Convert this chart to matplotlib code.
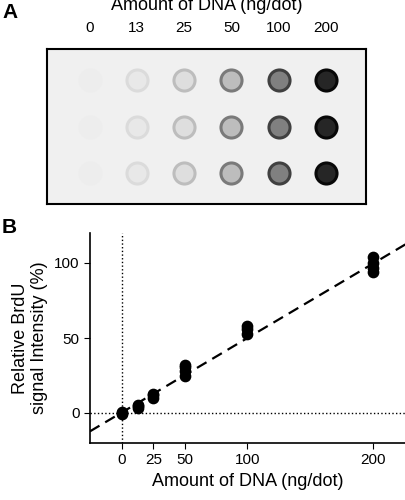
import matplotlib
matplotlib.use("Agg")
import matplotlib.pyplot as plt
import numpy as np

plt.rcParams['font.family'] = ['Liberation Sans', 'DejaVu Sans']

# Panel A data
dot_labels = ['0', '13', '25', '50', '100', '200']
edge_gray = [0.93, 0.86, 0.74, 0.48, 0.25, 0.03]
face_gray = [0.93, 0.91, 0.87, 0.74, 0.5, 0.15]
n_rows = 3

# Panel B data
x_vals = [0, 0, 0, 13, 13, 13, 25, 25, 25, 50, 50, 50, 50, 100, 100, 100, 200, 200, 200, 200]
y_vals = [0, -0.5, 0.5, 3.5, 4.5, 5.5, 10, 12, 13, 25, 28, 31, 32, 53, 56, 58, 94, 97, 100, 104]
fit_slope = 0.496
fit_intercept = 0.4
x_ticks = [0, 25, 50, 100, 200]
y_ticks = [0, 50, 100]

fig = plt.figure(figsize=(4.05, 5), dpi=100)

axA = fig.add_axes([0.116, 0.592, 0.788, 0.31])
axA.set_facecolor((0.94, 0.94, 0.94))
for i in range(len(dot_labels)):
    for r in range(n_rows):
        axA.scatter(i, r, s=230, c=[[face_gray[i]]*3], edgecolors=[[edge_gray[i]]*3], linewidths=2.2)
axA.set_xlim(-0.9, 5.85)
axA.set_ylim(2.65, -0.65)
axA.set_xticks(range(len(dot_labels)))
axA.set_xticklabels(dot_labels, fontsize=11)
axA.xaxis.tick_top()
axA.tick_params(axis='x', length=0, pad=10)
axA.set_yticks([])
axA.set_xlabel('Amount of DNA (ng/dot)', fontsize=13, labelpad=8)
axA.xaxis.set_label_position('top')
for s in axA.spines.values():
    s.set_linewidth(1.5)
fig.text(0.005, 0.975, 'A', fontsize=15, fontweight='bold', va='center')

axB = fig.add_axes([0.222, 0.114, 0.778, 0.42])
axB.scatter(x_vals, y_vals, s=55, c='black', zorder=3)
xl = np.array([-25.5, 226])
axB.plot(xl, fit_slope * xl + fit_intercept, 'k--', lw=1.6, dashes=(5, 3))
axB.axhline(0, color='black', ls=':', lw=1)
axB.axvline(0, color='black', ls=':', lw=1)
axB.set_xlim(-25.5, 225.5)
axB.set_ylim(-20, 120)
axB.set_xticks(x_ticks)
axB.set_yticks(y_ticks)
axB.tick_params(labelsize=11, length=4)
axB.spines['top'].set_visible(False)
axB.spines['right'].set_visible(False)
for s in ['left', 'bottom']:
    axB.spines[s].set_linewidth(1.2)
axB.set_xlabel('Amount of DNA (ng/dot)', fontsize=13)
axB.set_ylabel('Relative BrdU\nsignal Intensity (%)', fontsize=13)
fig.text(0.005, 0.545, 'B', fontsize=15, fontweight='bold', va='center')

fig.savefig('out.png', dpi=100)
